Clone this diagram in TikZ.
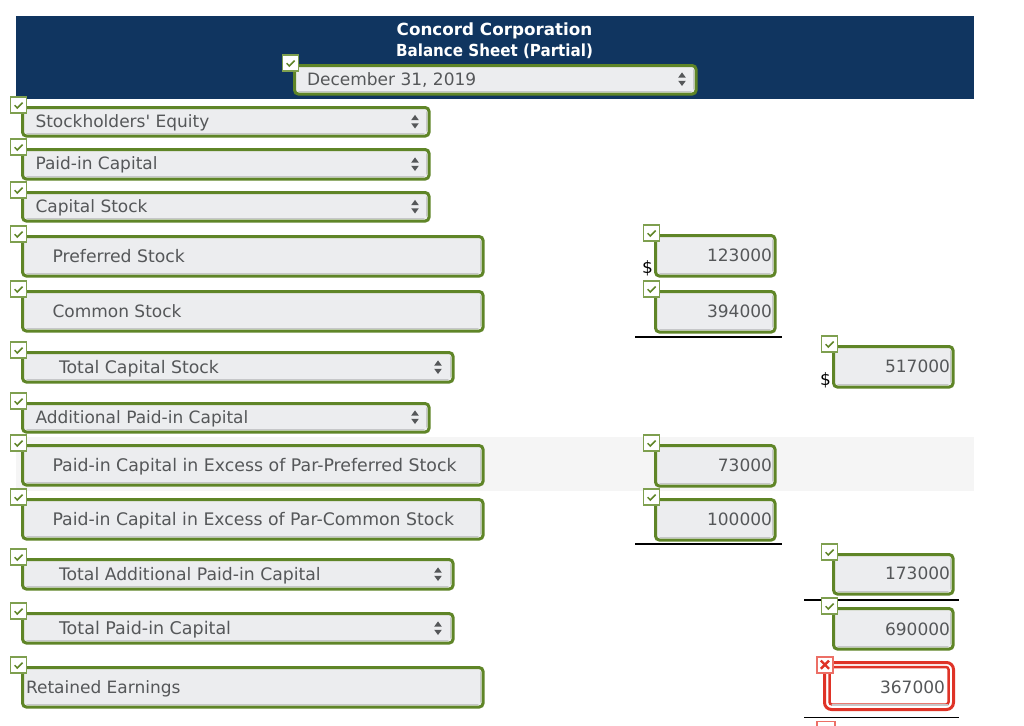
\documentclass[tikz,border=0pt]{standalone}
\usepackage{fontspec}
\setmainfont{DejaVu Sans}
\newfontfamily\plainface{DejaVu Sans}
\definecolor{navy}{HTML}{103560}
\definecolor{okgreen}{HTML}{5F8527}
\definecolor{oklight}{HTML}{7E9F4F}
\definecolor{fieldgray}{HTML}{ECEDEF}
\definecolor{bevelgray}{HTML}{C6C7C9}
\definecolor{inkgray}{HTML}{555759}
\definecolor{errred}{HTML}{DF3327}
\definecolor{errlight}{HTML}{EC6F66}
\definecolor{band}{HTML}{F5F5F5}
\tikzset{
  x=1pt,y=-1pt,
  every node/.append style={outer sep=0pt},
  field/.style={draw=okgreen,fill=fieldgray,line width=3pt,rounded corners=4pt,inner sep=0pt,anchor=north west},
  redfield/.style={draw=errred,fill=white,line width=3pt,rounded corners=7pt,inner sep=0pt,anchor=north west},
  redinner/.style={draw=errred,fill=white,line width=2.5pt,rounded corners=2.5pt,inner sep=0pt,anchor=north west},
  bevel/.style={draw=bevelgray,line width=1.1pt,line cap=round},
  lab/.style={text=inkgray,font=\fontsize{#1}{20}\selectfont,inner sep=0pt,anchor=base west},
  lab/.default=17,
  num/.style={text=inkgray,font=\fontsize{17}{20}\selectfont,inner sep=0pt,anchor=base east},
  dollar/.style={text=black,font=\fontsize{17}{20}\selectfont,inner sep=0pt,anchor=base},
  headtxt/.style={text=white,font=\bfseries\fontsize{#1}{20}\selectfont,inner sep=0pt,anchor=base},
  tick/.style={draw=oklight,fill=white,line width=1.6pt,inner sep=0pt,minimum size=16pt,anchor=north west},
  crossbox/.style={draw=errlight,fill=white,line width=1.6pt,inner sep=0pt,minimum size=16pt,anchor=north west},
  tickmark/.style={draw=okgreen,line width=1.5pt},
  crossmark/.style={draw=errred,line width=2.4pt},
  rule/.style={draw=black,line width=1.4pt},
}
% name x1 y1 x2 y2
\newcommand\fieldat[5]{%
  \node[field,minimum width={#4-#2-2.4},minimum height={#5-#3-2.4}] (#1) at ({#2+1.5},{#3+1.5}) {};
  \draw[bevel] ({#2+6},{#5-3.2}) -- ({#4-6},{#5-3.2});
  \draw[bevel] ({#4-3.2},{#3+6}) -- ({#4-3.2},{#5-6});
  \node[tick] (#1check) at ({#2-10.5},{#3-8.8}) {};
  \draw[tickmark] ({#2-6.4},{#3-0.8}) -- ({#2-3.7},{#3+2}) -- ({#2+1.6},{#3-3.4});
}
\newcommand\updown[2]{%
  \fill[inkgray] ({#1-3.8},{#2-1.4}) -- ({#1+3.8},{#2-1.4}) -- (#1,{#2-6.6}) -- cycle;
  \fill[inkgray] ({#1-3.8},{#2+1.8}) -- ({#1+3.8},{#2+1.8}) -- (#1,{#2+7}) -- cycle;
}
\begin{document}
\begin{tikzpicture}
\path[use as bounding box] (0,0) rectangle (1024,725);
\fill[white] (0,0) rectangle (1024,725);
% header and band
\fill[navy] (16,16) rectangle (974,99);
\fill[band] (16,437) rectangle (974,491);
\node[headtxt=16.75] (title1) at (494.5,36) {Concord Corporation};
\node[headtxt=16.6] (title2) at (494.5,56.3) {\scalebox{0.91}[1]{Balance Sheet (Partial)}};
% date
\fieldat{date}{293}{64}{697}{95}
\node[lab] (datet) at (307,85) {December 31, 2019};
\updown{682}{79}
% select rows
\fieldat{se}{21}{106}{430}{137}
\node[lab] (set) at (35.5,127) {{\plainface Stockholders' Equity}};
\updown{415}{121.5}
\fieldat{pc}{21}{148}{430}{180}
\node[lab] (pct) at (35.5,169.5) {Paid-in Capital};
\updown{415}{164}
\fieldat{cs}{21}{191}{430}{222}
\node[lab] (cst) at (35.5,212) {Capital Stock};
\updown{415}{206.5}
\fieldat{ps}{21}{235}{484}{277}
\node[lab=17.25] (pst) at (52.5,262.5) {Preferred Stock};
\fieldat{co}{21}{290}{484}{332}
\node[lab] (cot) at (52.5,317.5) {Common Stock};
\fieldat{tc}{21}{351}{454}{383}
\node[lab=17.3] (tct) at (59,373) {Total Capital Stock};
\updown{438}{367}
\fieldat{ap}{21}{402}{430}{433}
\node[lab] (apt) at (35.5,423) {Additional Paid-in Capital};
\updown{415}{417}
\fieldat{pp}{21}{444}{484}{486}
\node[lab=17.35] (ppt) at (52.5,471.5) {Paid-in Capital in Excess of Par-Preferred Stock};
\fieldat{pk}{21}{498}{484}{540}
\node[lab=17.3] (pkt) at (52.5,525) {Paid-in Capital in Excess of Par-Common Stock};
\fieldat{ta}{21}{558}{454}{590}
\node[lab=17.25] (tat) at (59,580) {Total Additional Paid-in Capital};
\updown{438}{574}
\fieldat{tp}{21}{612}{454}{644}
\node[lab=17.5] (tpt) at (59,634) {Total Paid-in Capital};
\updown{438}{628}
\fieldat{re}{21}{666}{484}{708}
\node[lab] (ret) at (26,693) {Retained Earnings};
% amount column 1
\fieldat{a1}{654}{234}{776}{277}
\node[num] (a1t) at (772,261) {123000};
\node[dollar] (d1) at (647.5,273) {\$};
\fieldat{a2}{654}{290}{776}{333}
\node[num] (a2t) at (772,317) {394000};
\coordinate (r1a) at (635,337); \coordinate (r1b) at (782,337);
\draw[rule] (r1a) -- (r1b);
\fieldat{a3}{654}{444}{776}{487}
\node[num] (a3t) at (772,471) {73000};
\fieldat{a4}{654}{498}{776}{541}
\node[num] (a4t) at (772,525) {100000};
\coordinate (r2a) at (635,544); \coordinate (r2b) at (782,544);
\draw[rule] (r2a) -- (r2b);
% amount column 2
\fieldat{b1}{832}{345}{954}{388}
\node[num] (b1t) at (950,372.5) {517000};
\node[dollar] (d2) at (825.5,385) {\$};
\fieldat{b2}{832}{553}{954}{595}
\node[num] (b2t) at (950,579.5) {173000};
\coordinate (r3a) at (804,600); \coordinate (r3b) at (959,600);
\draw[rule] (r3a) -- (r3b);
\fieldat{b3}{832}{607}{954}{650}
\node[num] (b3t) at (950,635) {690000};
% wrong answer
\node[redfield,minimum width=129,minimum height=47] (b4) at (824.5,662.5) {};
\node[redinner,minimum width=119,minimum height=37.5] (b4i) at (829.5,667) {};
\draw[bevel] (832,705) -- (948,705);
\node[crossbox] (b4x) at (816.8,656.8) {};
\draw[crossmark] (820.8,660.6) -- (829,668.8);
\draw[crossmark] (829,660.6) -- (820.8,668.8);
\node[num] (b4t) at (945,693) {367000};
\coordinate (r4a) at (804,717.5); \coordinate (r4b) at (959,717.5);
\draw[rule] (r4a) -- (r4b);
\node[crossbox,minimum size=18pt] (b5x) at (816.8,721.5) {};
\end{tikzpicture}
\end{document}
